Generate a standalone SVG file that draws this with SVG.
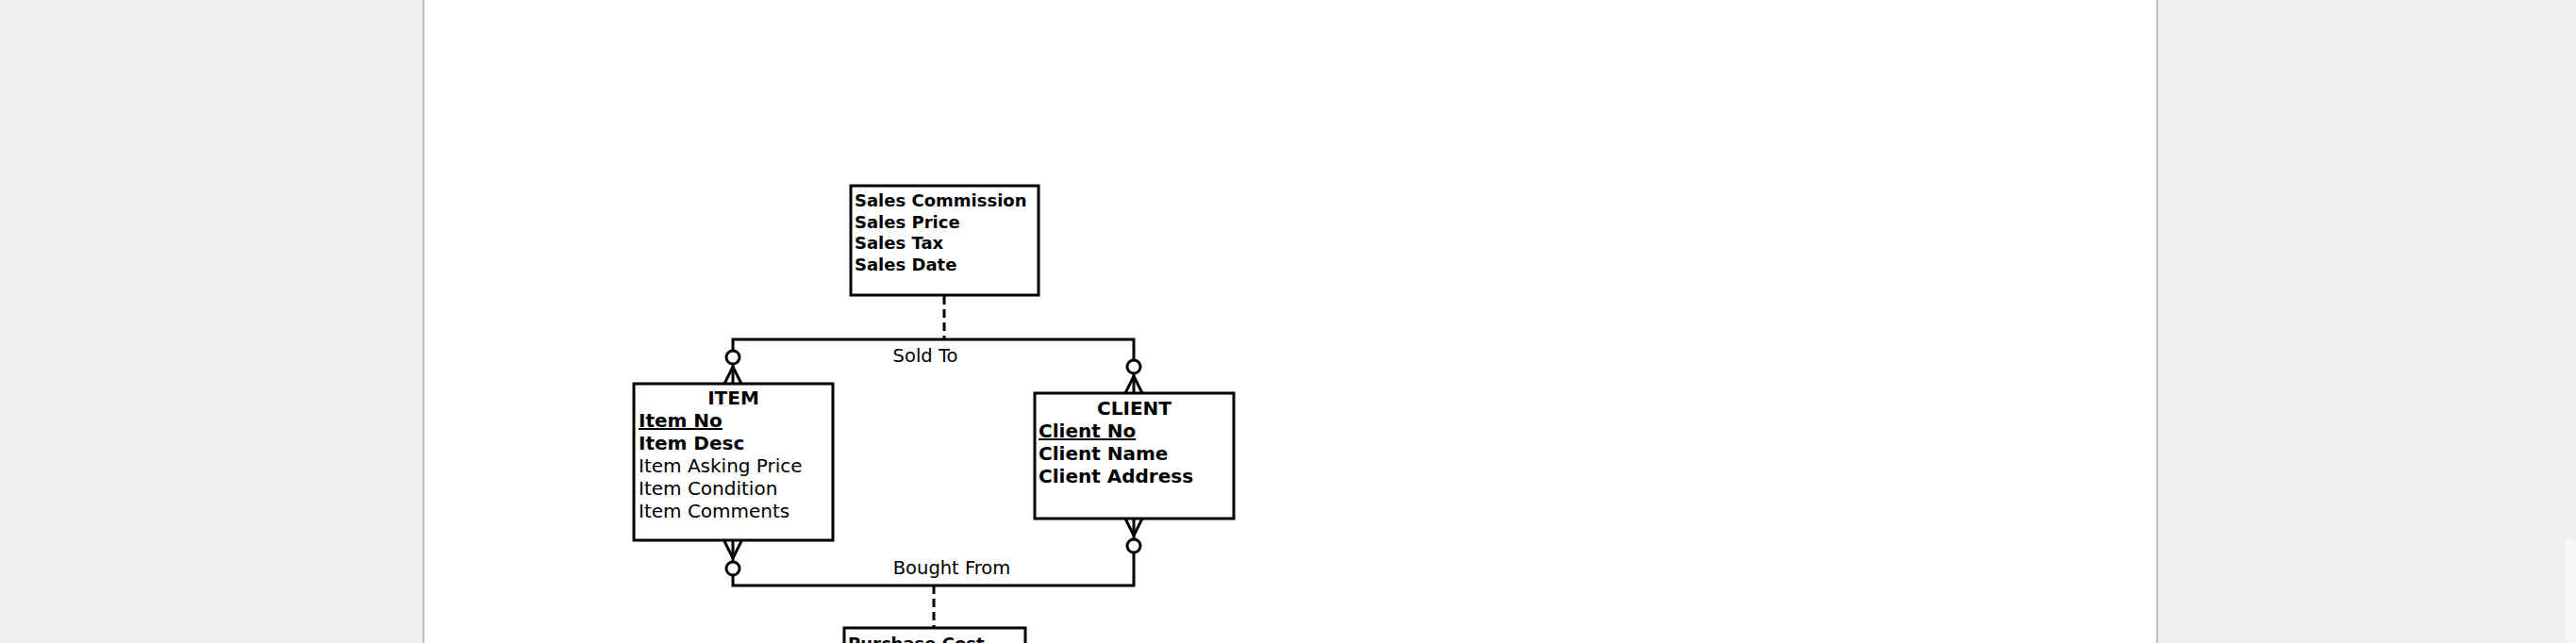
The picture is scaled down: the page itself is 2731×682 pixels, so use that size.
<svg xmlns="http://www.w3.org/2000/svg" width="2731" height="682" viewBox="0 0 2731 682">
<style>
.box{fill:#fff;stroke:#000;stroke-width:3}
.ln{fill:none;stroke:#000;stroke-width:3}
.dash{fill:none;stroke:#000;stroke-width:3;stroke-dasharray:9 5}
.circ{fill:#fff;stroke:#000;stroke-width:3}
text{font-family:"DejaVu Sans","Liberation Sans",sans-serif;fill:#000}
.b18{font-size:18px;font-weight:bold}
.b20{font-size:20px;font-weight:bold}
.n20{font-size:20px}
.lbl{font-size:19.5px;text-anchor:middle}
.u{text-decoration:underline}
</style>
<rect x="0" y="0" width="2731" height="682" fill="#f0f0f0"/>
<rect x="450" y="0" width="1836" height="682" fill="#ffffff"/>
<rect x="448" y="0" width="2" height="682" fill="#bfbfbf"/>
<rect x="2286" y="0" width="2" height="682" fill="#bfbfbf"/>
<rect x="2720" y="572" width="11" height="110" rx="3" fill="#f7f7f7"/>

<g id="connectors">
  <!-- Sold To -->
  <line class="dash" x1="1001" y1="314" x2="1001" y2="360"/>
  <polyline class="ln" points="777,407 777,360 1202,360 1202,417"/>
  <line class="ln" x1="777" y1="389" x2="768" y2="407"/>
  <line class="ln" x1="777" y1="389" x2="786" y2="407"/>
  <circle class="circ" cx="777" cy="379" r="7"/>
  <line class="ln" x1="1202" y1="399" x2="1193" y2="417"/>
  <line class="ln" x1="1202" y1="399" x2="1211" y2="417"/>
  <circle class="circ" cx="1202" cy="389" r="7"/>
  <text class="lbl" x="981" y="384">Sold To</text>
  <!-- Bought From -->
  <polyline class="ln" points="777,574 777,621 1202,621 1202,550"/>
  <line class="ln" x1="777" y1="592" x2="768" y2="574"/>
  <line class="ln" x1="777" y1="592" x2="786" y2="574"/>
  <circle class="circ" cx="777" cy="603" r="7"/>
  <line class="ln" x1="1202" y1="568" x2="1193" y2="550"/>
  <line class="ln" x1="1202" y1="568" x2="1211" y2="550"/>
  <circle class="circ" cx="1202" cy="579" r="7"/>
  <line class="dash" x1="990" y1="621" x2="990" y2="665"/>
  <text class="lbl" x="1009" y="609">Bought From</text>
</g>

<g id="sales">
  <rect class="box" x="902" y="197" width="199" height="116"/>
  <text class="b18" x="906" y="219">Sales Commission</text>
  <text class="b18" x="906" y="241.5">Sales Price</text>
  <text class="b18" x="906" y="264">Sales Tax</text>
  <text class="b18" x="906" y="286.5">Sales Date</text>
</g>

<g id="item">
  <rect class="box" x="672" y="407" width="211" height="166"/>
  <text class="b20" x="777.5" y="429" text-anchor="middle">ITEM</text>
  <text class="b20 u" x="677" y="453">Item No</text>
  <text class="b20" x="677" y="477">Item Desc</text>
  <text class="n20" x="677" y="501">Item Asking Price</text>
  <text class="n20" x="677" y="525">Item Condition</text>
  <text class="n20" x="677" y="549">Item Comments</text>
</g>

<g id="client">
  <rect class="box" x="1097" y="417" width="211" height="133"/>
  <text class="b20" x="1202.5" y="440" text-anchor="middle">CLIENT</text>
  <text class="b20 u" x="1101" y="464">Client No</text>
  <text class="b20" x="1101" y="488">Client Name</text>
  <text class="b20" x="1101" y="512">Client Address</text>
</g>

<g id="purchase">
  <rect class="box" x="895" y="666" width="192" height="60"/>
  <text class="b18" x="899" y="689">Purchase Cost</text>
</g>
</svg>
